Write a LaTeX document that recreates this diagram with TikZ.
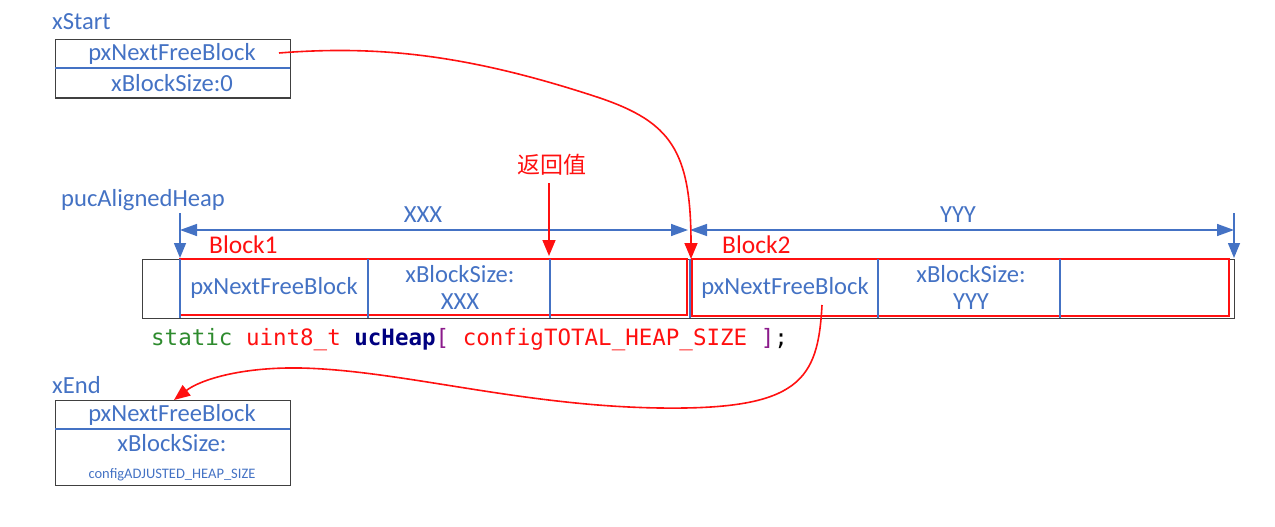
\documentclass[tikz,border=0pt]{standalone}
\usepackage{fontspec}
\setmainfont{Carlito}
\newfontfamily\cjk{Noto Sans CJK SC}
\newfontfamily\codefont{DejaVu Sans Mono}
\usetikzlibrary{arrows.meta}
\definecolor{ublue}{HTML}{4472C4}
\definecolor{ured}{HTML}{FF1010}
\definecolor{cgreen}{HTML}{2E8B2E}
\definecolor{cnavy}{HTML}{000080}
\definecolor{cpurple}{HTML}{8B1A8B}
\begin{document}
\begin{tikzpicture}[x=1pt,y=-1pt,
  lbl/.style={text=ublue,font=\fontsize{24.6}{28}\selectfont,inner sep=0pt},
  small/.style={text=ublue,font=\fontsize{14.5}{16}\selectfont,inner sep=0pt},
  redlbl/.style={text=ured,font=\fontsize{25.5}{29}\selectfont,inner sep=0pt},
  frame/.style={draw=black!75,line width=1pt},
  divline/.style={draw=ublue,line width=1.5pt},
  blockrect/.style={draw=ured,line width=1.5pt},
  dimline/.style={draw=ublue,line width=1.5pt,{Triangle[length=17pt,width=12pt]}-{Triangle[length=17pt,width=12pt]}},
  bluearrow/.style={draw=ublue,line width=1.5pt,-{Triangle[length=15pt,width=12pt]}},
  redarrow/.style={draw=ured,line width=1.6pt,-{Triangle[length=16pt,width=13pt]}}
]
\useasboundingbox (0,0) rectangle (1275,527);

% xStart
\node[lbl,anchor=west] (xs) at (52,22) {xStart};
\draw[frame] (55,40) rectangle (290,98);
\draw[divline] (55,68) -- (290,68);
\node[lbl] (s1) at (172,54) {pxNextFreeBlock};
\node[lbl] (s2) at (172,83) {xBlockSize:0};

% xEnd
\node[lbl,anchor=west] (xe) at (52,385) {xEnd};
\draw[frame] (55,400) rectangle (290,485);
\draw[divline] (55,429) -- (290,429);
\node[lbl] (e1) at (172,415) {pxNextFreeBlock};
\node[lbl] (e2) at (172,443) {xBlockSize:};
\node[small] (e3) at (172,475) {configADJUSTED\_HEAP\_SIZE};

% heap
\draw[frame] (142,259) rectangle (1234,318);
\draw[blockrect] (180,259) rectangle (687,315);
\draw[blockrect] (692,259) rectangle (1229,316);
\draw[divline] (368,259) -- (368,318);
\draw[divline] (550,259) -- (550,318);
\draw[divline] (690,259) -- (690,318);
\draw[divline] (878,259) -- (878,318);
\draw[divline] (1060,259) -- (1060,318);
\draw[divline] (180,259) -- (180,318);

\node[redlbl,anchor=west] (b1) at (209,245) {Block1};
\node[redlbl,anchor=west] (b2) at (722,245) {Block2};

\node[lbl] (c11) at (274,288) {pxNextFreeBlock};
\node[lbl] (c12) at (460,274) {xBlockSize:};
\node[lbl] (c13) at (460,302) {XXX};
\node[lbl] (c21) at (785,288) {pxNextFreeBlock};
\node[lbl] (c22) at (971,274) {xBlockSize:};
\node[lbl] (c23) at (971,302) {YYY};

% pucAlignedHeap and dimensions
\node[lbl,anchor=west] (pah) at (61,200) {pucAlignedHeap};
\coordinate (h0top) at (180,213);
\coordinate (h0) at (180,258);
\coordinate (h1) at (688,230);
\coordinate (h1b) at (690,230);
\coordinate (h2top) at (1234,213);
\coordinate (h2) at (1234,258);
\draw[bluearrow] (h0top) -- (h0);
\draw[bluearrow] (h2top) -- (h2);
\draw[dimline] (h0top|-h1) -- (h1);
\draw[dimline] (h1b) -- (h2top|-h1);
\node[lbl] (xxx) at (423,215) {XXX};
\node[lbl] (yyy) at (958,215) {YYY};

% return value
\node[text=ured,font=\cjk\fontsize{23}{27}\selectfont,inner sep=0pt] (ret) at (552,165) {返回值};
\coordinate (retTip) at (549,256);
\draw[redarrow] (549,183) -- (retTip);

% code line
\node[anchor=west,inner sep=0pt,font=\codefont\fontsize{22.5}{26}\selectfont] (code) at (151,340)
 {\textcolor{cgreen}{static} \textcolor{ured}{uint8\_t} \textcolor{cnavy}{\bfseries ucHeap}\textcolor{cpurple}{[} \textcolor{ured}{configTOTAL\_HEAP\_SIZE} \textcolor{cpurple}{]};};

% red curves
\coordinate (p1) at (279,53);
\coordinate (b2tl) at (691,259);
\draw[redarrow] (p1) .. controls (380,45) and (470,55) .. (600,98) .. controls (670,122) and (691,150) .. (b2tl);
\coordinate (p2) at (822,305);
\coordinate (xeTop) at (174,400);
\draw[redarrow] (p2) .. controls (818,380) and (800,410) .. (660,408) .. controls (520,406) and (400,370) .. (300,368) .. controls (240,367) and (200,380) .. (xeTop);
\end{tikzpicture}
\end{document}
